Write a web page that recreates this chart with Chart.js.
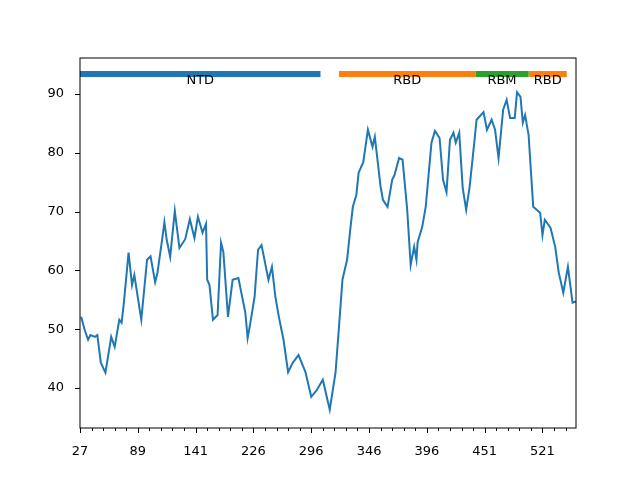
<!DOCTYPE html>
<html><head><script src="https://cdn.jsdelivr.net/npm/chart.js@4"></script>
<style>body{margin:0;background:#fff}</style></head><body>
<canvas id="c" width="640" height="480"></canvas>
<script>
const xIdx=[1,4,7,9,13,15,18,22,27,30,34,36,38,42,45,47,53,58,61,65,67,71,73,75,78,82,86,91,95,99,102,106,109,110,112,115,119,122,124,128,132,137,143,145,147,151,154,157,163,166,169,172,176,180,184,189,195,200,205,210,216,221,224,227,231,234,236,239,241,245,249,253,255,260,262,266,270,272,276,279,283,286,289,291,292,296,299,304,307,311,314,317,320,323,325,328,331,334,337,341,343,349,352,356,359,362,366,369,372,376,378,381,383,385,388,392,398,400,402,407,411,414,418,422,426,429];
const yVal=[52.1,49.9,48.2,49.0,48.7,49.0,44.3,42.6,48.7,47.0,51.6,51.1,54.6,63.0,57.5,59.2,51.6,61.8,62.4,58.0,59.6,65.2,68.2,65.2,62.3,70.1,63.8,65.3,68.7,65.5,69.1,66.4,67.9,58.4,57.5,51.6,52.4,64.7,63.1,52.1,58.4,58.7,52.8,48.5,50.7,55.5,63.5,64.3,58.4,60.6,55.5,52.1,48.2,42.7,44.3,45.6,42.7,38.5,39.7,41.4,36.3,42.6,50.4,58.4,61.8,67.4,70.8,72.8,76.6,78.4,83.9,81.0,82.7,74.2,72.0,70.8,75.4,76.2,79.1,78.8,70.3,60.9,64.0,61.8,64.8,67.4,70.8,81.7,83.7,82.5,75.4,73.3,82.2,83.4,81.7,83.4,74.0,70.3,74.2,81.7,85.6,86.9,83.9,85.6,83.9,79.1,87.3,89.0,85.9,85.9,90.3,89.5,85.1,86.4,83.0,70.8,69.8,66.0,68.6,67.2,64.0,59.7,56.2,60.6,54.5,54.7];
const tickLabels=['27','89','141','226','296','346','396','451','521'];
const regionNames=['NTD','RBD','RBM','RBD'];
const regionStart=[0,224,342,388];
const regionEnd=[208,342,388,421];
const regionColors=['#1f77b4','#ff7f0e','#2ca02c','#ff7f0e'];
const regionY=93.4;

const datasets=[{data:xIdx.map((x,i)=>({x,y:yVal[i]})),borderColor:'#1f77b4',borderWidth:2,pointRadius:0,tension:0}];
regionNames.forEach((n,i)=>datasets.push({data:[{x:regionStart[i],y:regionY},{x:regionEnd[i],y:regionY}],borderColor:regionColors[i],borderWidth:6,borderCapStyle:'butt',pointRadius:0}));

const deco={id:'deco',afterDraw(ch){
 const c=ch.ctx,a=ch.chartArea,xs=ch.scales.x,ys=ch.scales.y;
 c.save();c.strokeStyle='#000';c.lineWidth=1;
 c.strokeRect(a.left,a.top,a.right-a.left,a.bottom-a.top);
 c.beginPath();
 for(let v=0;v<=429;v+=10){const p=Math.round(xs.getPixelForValue(v))+0.5;const L=v%50===0?5:3;c.moveTo(p,a.bottom);c.lineTo(p,a.bottom+L);}
 for(let v=40;v<=90;v+=10){const p=Math.round(ys.getPixelForValue(v))+0.5;c.moveTo(a.left,p);c.lineTo(a.left-5,p);}
 c.stroke();
 c.fillStyle='#000';c.font='13px "DejaVu Sans"';c.textAlign='center';c.textBaseline='middle';
 regionNames.forEach((n,i)=>{c.fillText(n,xs.getPixelForValue((regionStart[i]+regionEnd[i])/2),ys.getPixelForValue(regionY)+7);});
 c.restore();}};

new Chart(document.getElementById('c'),{type:'line',data:{datasets},plugins:[deco],
options:{responsive:false,animation:false,layout:{padding:{left:0,right:64,top:58,bottom:0}},
plugins:{legend:{display:false},tooltip:{enabled:false}},
scales:{
 x:{type:'linear',min:0,max:429,grid:{display:false},border:{display:false},
  afterBuildTicks:s=>{s.ticks=[];for(let v=0;v<=429;v+=50)s.ticks.push({value:v});},
  ticks:{autoSkip:false,maxRotation:0,color:'#000',font:{family:'DejaVu Sans',size:13},padding:8,callback:v=>tickLabels[v/50]},
  afterFit:s=>{s.height=52;}},
 y:{min:33.2,max:96.1,grid:{display:false},border:{display:false},
  afterBuildTicks:s=>{s.ticks=[];for(let v=40;v<=90;v+=10)s.ticks.push({value:v});},
  ticks:{color:'#000',font:{family:'DejaVu Sans',size:13},padding:8},
  afterFit:s=>{s.width=80;}}}}});
</script></body></html>
